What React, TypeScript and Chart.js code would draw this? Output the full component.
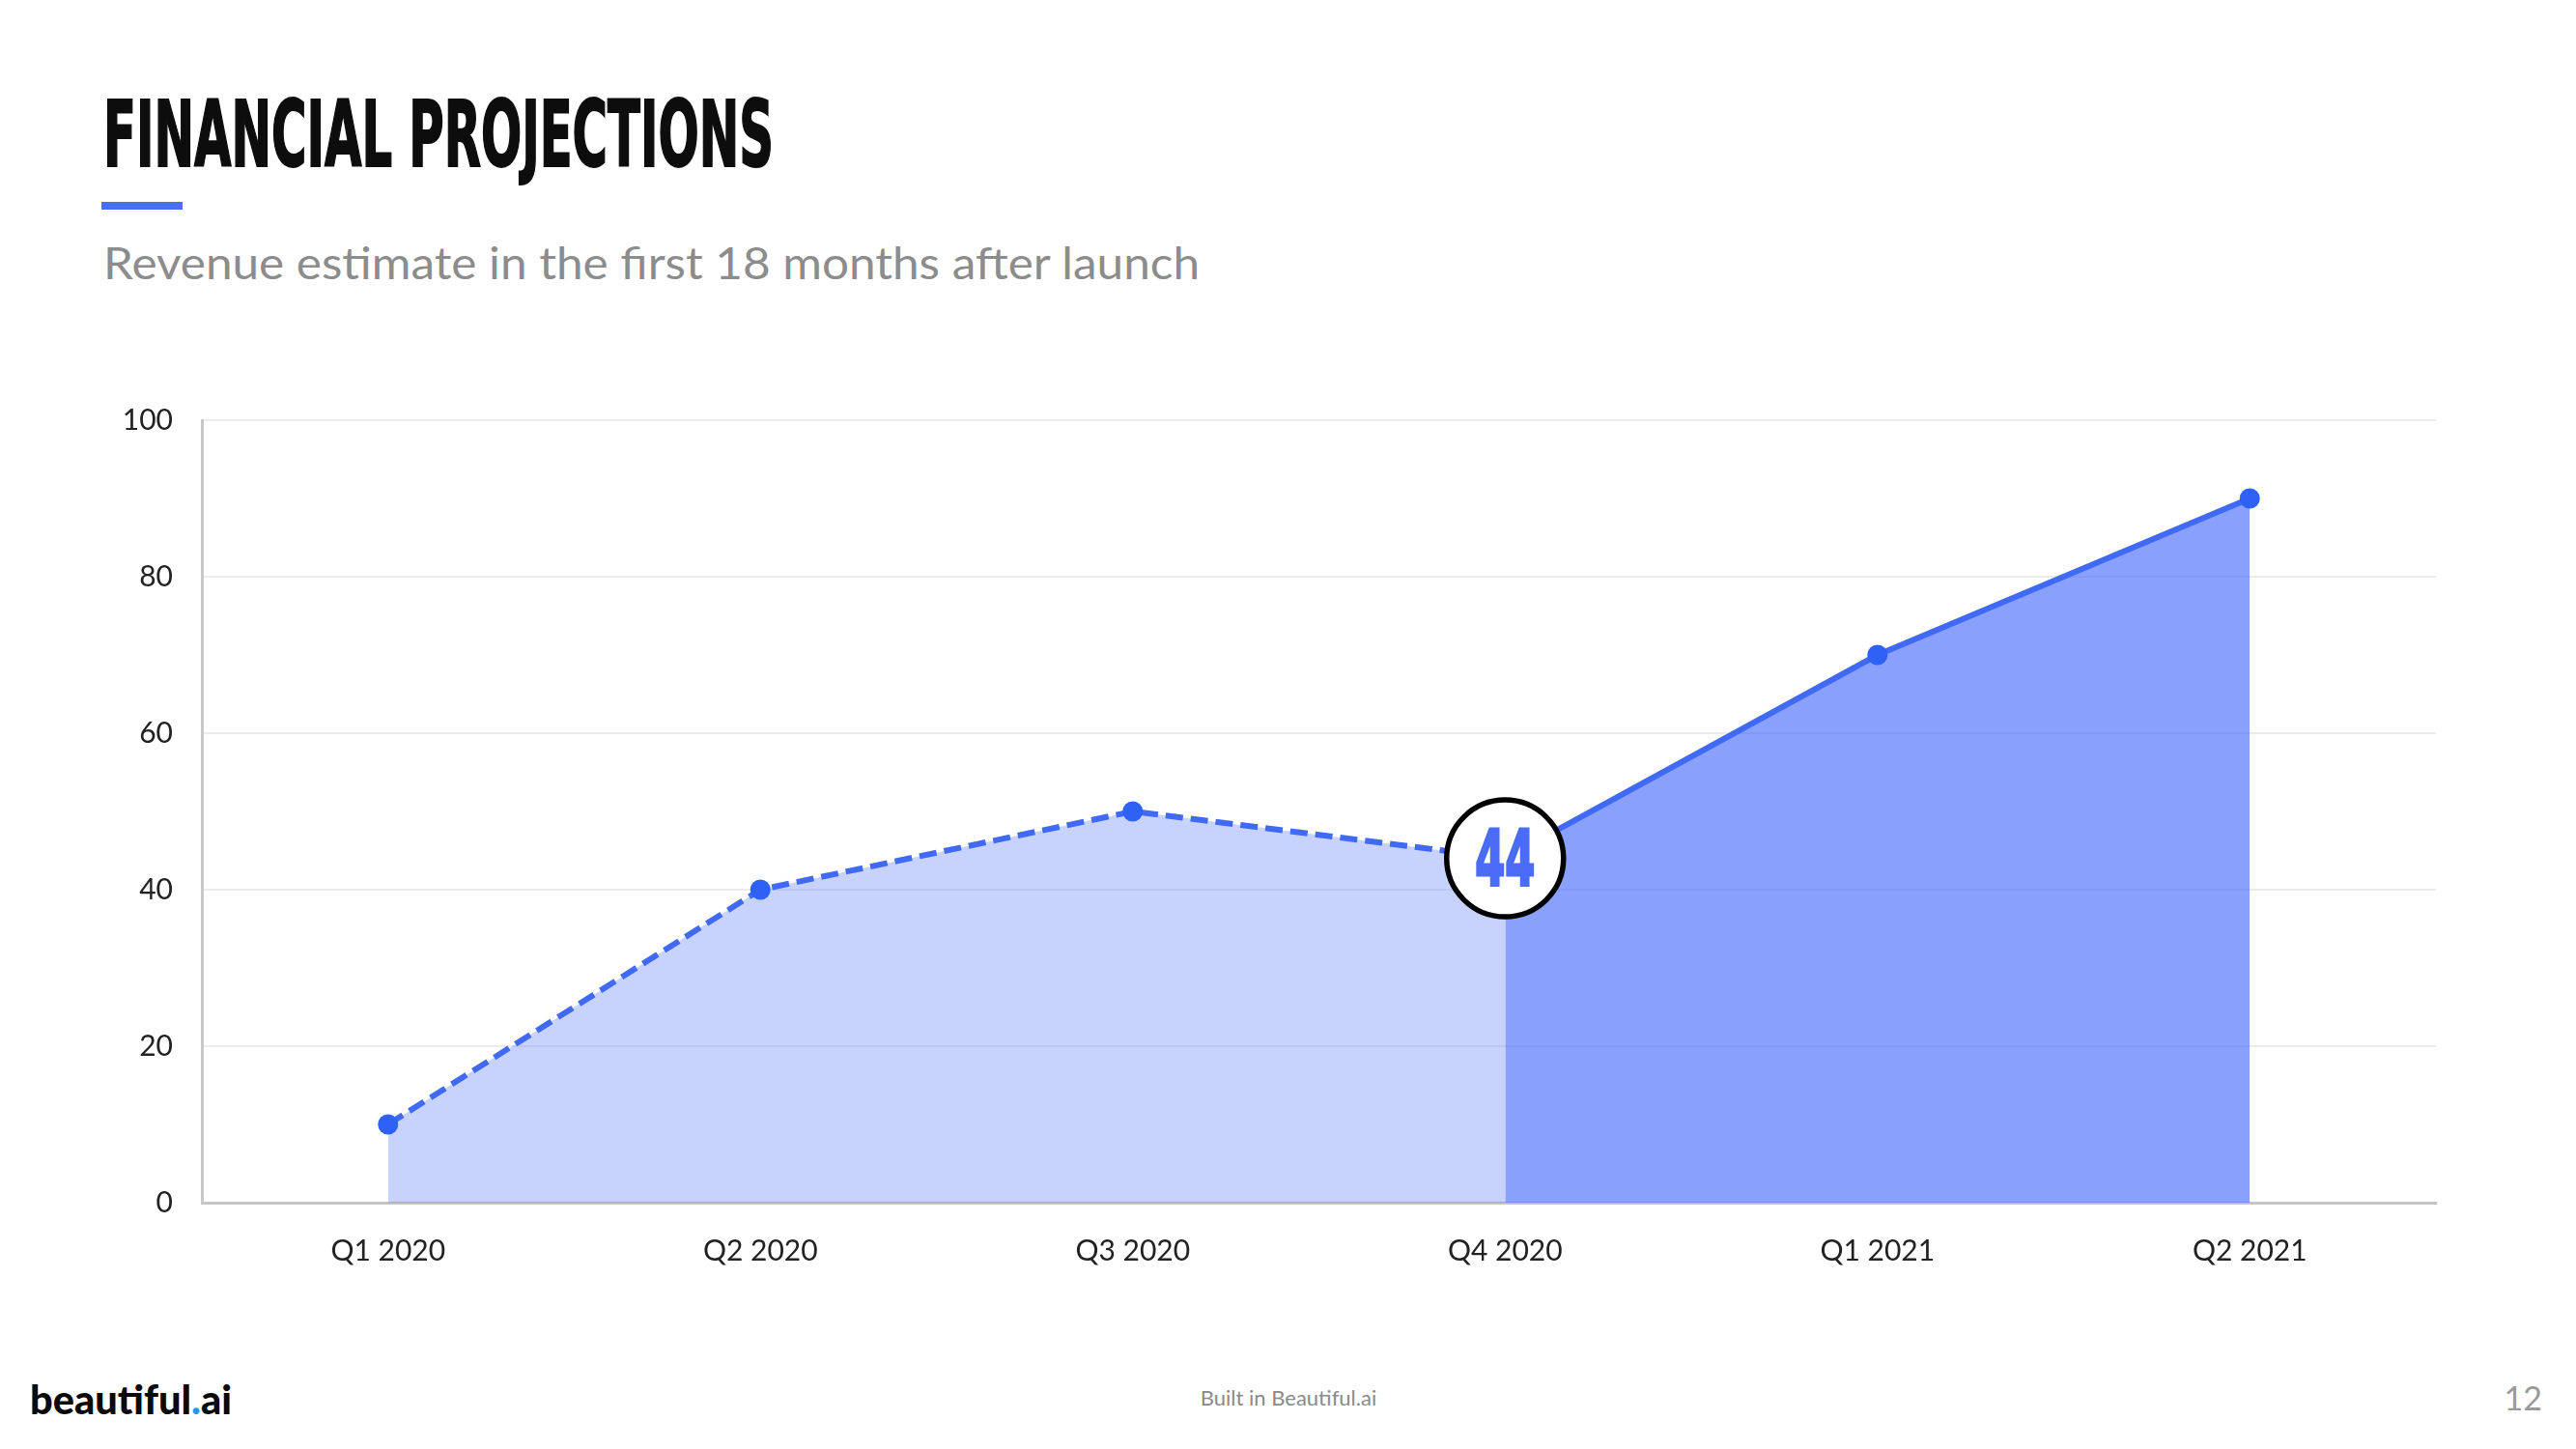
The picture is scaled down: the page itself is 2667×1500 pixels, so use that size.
import React, { useEffect, useLayoutEffect, useRef } from "react";
import { Chart, registerables } from "chart.js";

Chart.register(...registerables);

// ---- data ----
const categories = ["Q1 2020", "Q2 2020", "Q3 2020", "Q4 2020", "Q1 2021", "Q2 2021"];
const revenue = [10, 40, 50, 44, 70, 90];
const highlightIndex = 3; // Q4 2020: dashed/light before, solid/dark after
const yMin = 0;
const yMax = 100;
const yStep = 20;

const titleText = "FINANCIAL PROJECTIONS";
const subtitleText = "Revenue estimate in the first 18 months after launch";
const footerText = "Built in Beautiful.ai";
const pageNumber = "12";

// ---- styles ----
const BLUE = "#4a6cf7";
const LINE = "#4069f6";
const POINT = "#2d62f5";
const FILL_LIGHT = "rgba(74,108,247,0.30)";
const FILL_DARK = "rgba(70,106,250,0.64)";
const CONDENSED = "'Liberation Sans Narrow', 'DejaVu Sans Condensed', Roboto, sans-serif";
const SANS = "Lato, 'Noto Sans', sans-serif";

function FitText(props: { text: React.ReactNode; width: number; style: React.CSSProperties }) {
  const ref = useRef<HTMLSpanElement>(null);
  useLayoutEffect(() => {
    const fit = () => {
      const el = ref.current;
      if (!el) return;
      el.style.transform = "none";
      const w = el.getBoundingClientRect().width;
      if (w > 0) el.style.transform = `scaleX(${props.width / w})`;
    };
    fit();
    if ((document as any).fonts && (document as any).fonts.ready) {
      (document as any).fonts.ready.then(fit);
    }
  }, [props.width]);
  return (
    <span
      ref={ref}
      style={{
        display: "inline-block",
        whiteSpace: "nowrap",
        transformOrigin: "left top",
        position: "absolute",
        ...props.style,
      }}
    >
      {props.text}
    </span>
  );
}

const markerPlugin = {
  id: "highlightMarker",
  afterDatasetsDraw(chart: any) {
    const meta = chart.getDatasetMeta(1);
    const pt = meta.data[highlightIndex];
    if (!pt) return;
    const { x, y } = pt;
    const ctx = chart.ctx as CanvasRenderingContext2D;
    ctx.save();
    ctx.beginPath();
    ctx.arc(x, y, 60.5, 0, Math.PI * 2);
    ctx.fillStyle = "#ffffff";
    ctx.fill();
    ctx.lineWidth = 5.5;
    ctx.strokeStyle = "#000000";
    ctx.stroke();
    const label = String(revenue[highlightIndex]);
    ctx.font = `bold 80px ${CONDENSED}`;
    const w = ctx.measureText(label).width;
    const sx = 62 / w;
    ctx.translate(x, y + 28.5);
    ctx.scale(sx, 1);
    ctx.fillStyle = BLUE;
    ctx.textAlign = "center";
    ctx.textBaseline = "alphabetic";
    ctx.lineWidth = 3;
    ctx.strokeStyle = BLUE;
    ctx.fillText(label, 0, 0);
    ctx.strokeText(label, 0, 0);
    ctx.restore();
  },
};

function RevenueChart() {
  const canvasRef = useRef<HTMLCanvasElement>(null);
  useEffect(() => {
    const canvas = canvasRef.current;
    if (!canvas) return;
    const before = revenue.map((v, i) => (i <= highlightIndex ? v : null));
    const after = revenue.map((v, i) => (i >= highlightIndex ? v : null));
    const chart = new Chart(canvas, {
      type: "line",
      data: {
        labels: categories,
        datasets: [
          {
            data: before,
            borderColor: LINE,
            borderWidth: 6,
            borderDash: [18, 8],
            backgroundColor: FILL_LIGHT,
            fill: "origin",
            tension: 0,
            pointRadius: revenue.map((_, i) => (i < highlightIndex ? 10.5 : 0)),
            pointBackgroundColor: POINT,
            pointBorderWidth: 0,
            pointHoverRadius: 0,
          },
          {
            data: after,
            borderColor: LINE,
            borderWidth: 6,
            backgroundColor: FILL_DARK,
            fill: "origin",
            tension: 0,
            pointRadius: revenue.map((_, i) => (i > highlightIndex ? 10.5 : 0)),
            pointBackgroundColor: POINT,
            pointBorderWidth: 0,
            pointHoverRadius: 0,
          },
        ],
      },
      options: {
        animation: false,
        responsive: false,
        devicePixelRatio: 1,
        layout: { padding: { left: 0, right: 145, top: 55, bottom: 0 } },
        plugins: { legend: { display: false }, tooltip: { enabled: false } },
        scales: {
          x: {
            type: "category",
            offset: true,
            grid: { display: true, color: "rgba(0,0,0,0)", drawTicks: false },
            border: { display: true, color: "#c4c4c4", width: 3 },
            ticks: { color: "#222", font: { family: SANS, size: 30 }, padding: 32, maxRotation: 0 },
            afterFit: (axis: any) => {
              axis.height = 135;
            },
          },
          y: {
            min: yMin,
            max: yMax,
            grid: { color: "#ececec", lineWidth: 2, drawTicks: false },
            border: { display: true, color: "#c8c8c8", width: 3 },
            ticks: { stepSize: yStep, color: "#222", font: { family: SANS, size: 30 }, padding: 30 },
            afterFit: (axis: any) => {
              axis.width = 209;
            },
          },
        },
      } as any,
      plugins: [markerPlugin],
    });
    return () => chart.destroy();
  }, []);
  return (
    <canvas
      ref={canvasRef}
      width={2667}
      height={1000}
      style={{ position: "absolute", left: 0, top: 380, width: 2667, height: 1000 }}
    />
  );
}

export default function App() {
  return (
    <div style={{ position: "fixed", left: 0, top: 0, width: 2667, height: 1500, background: "#fff", overflow: "hidden" }}>
      <FitText
        text={titleText}
        width={694}
        style={{
          left: 107,
          top: 92,
          fontFamily: CONDENSED,
          fontWeight: 700,
          fontSize: 95,
          lineHeight: 1,
          color: "#0d0d0d",
          WebkitTextStroke: "2px #0d0d0d",
        }}
      />
      <div style={{ position: "absolute", left: 105, top: 209, width: 84, height: 8, background: BLUE }} />
      <FitText
        text={subtitleText}
        width={1135}
        style={{ left: 107, top: 249, fontFamily: SANS, fontSize: 46, lineHeight: 1, color: "#8c8c8c" }}
      />
      <RevenueChart />
      <FitText
        text={
          <>
            beautiful<span style={{ color: "#2196f3" }}>.</span>ai
          </>
        }
        width={209}
        style={{ left: 31, top: 1427, fontFamily: SANS, fontWeight: 900, fontSize: 42, lineHeight: 1, color: "#0a0a0a" }}
      />
      <div
        style={{
          position: "absolute",
          left: 1134,
          width: 400,
          top: 1436,
          textAlign: "center",
          fontFamily: SANS,
          fontSize: 22,
          lineHeight: 1,
          color: "#8a8a8a",
        }}
      >
        {footerText}
      </div>
      <div
        style={{
          position: "absolute",
          right: 35,
          top: 1430,
          fontFamily: SANS,
          fontSize: 34,
          lineHeight: 1,
          color: "#9a9a9a",
        }}
      >
        {pageNumber}
      </div>
    </div>
  );
}
